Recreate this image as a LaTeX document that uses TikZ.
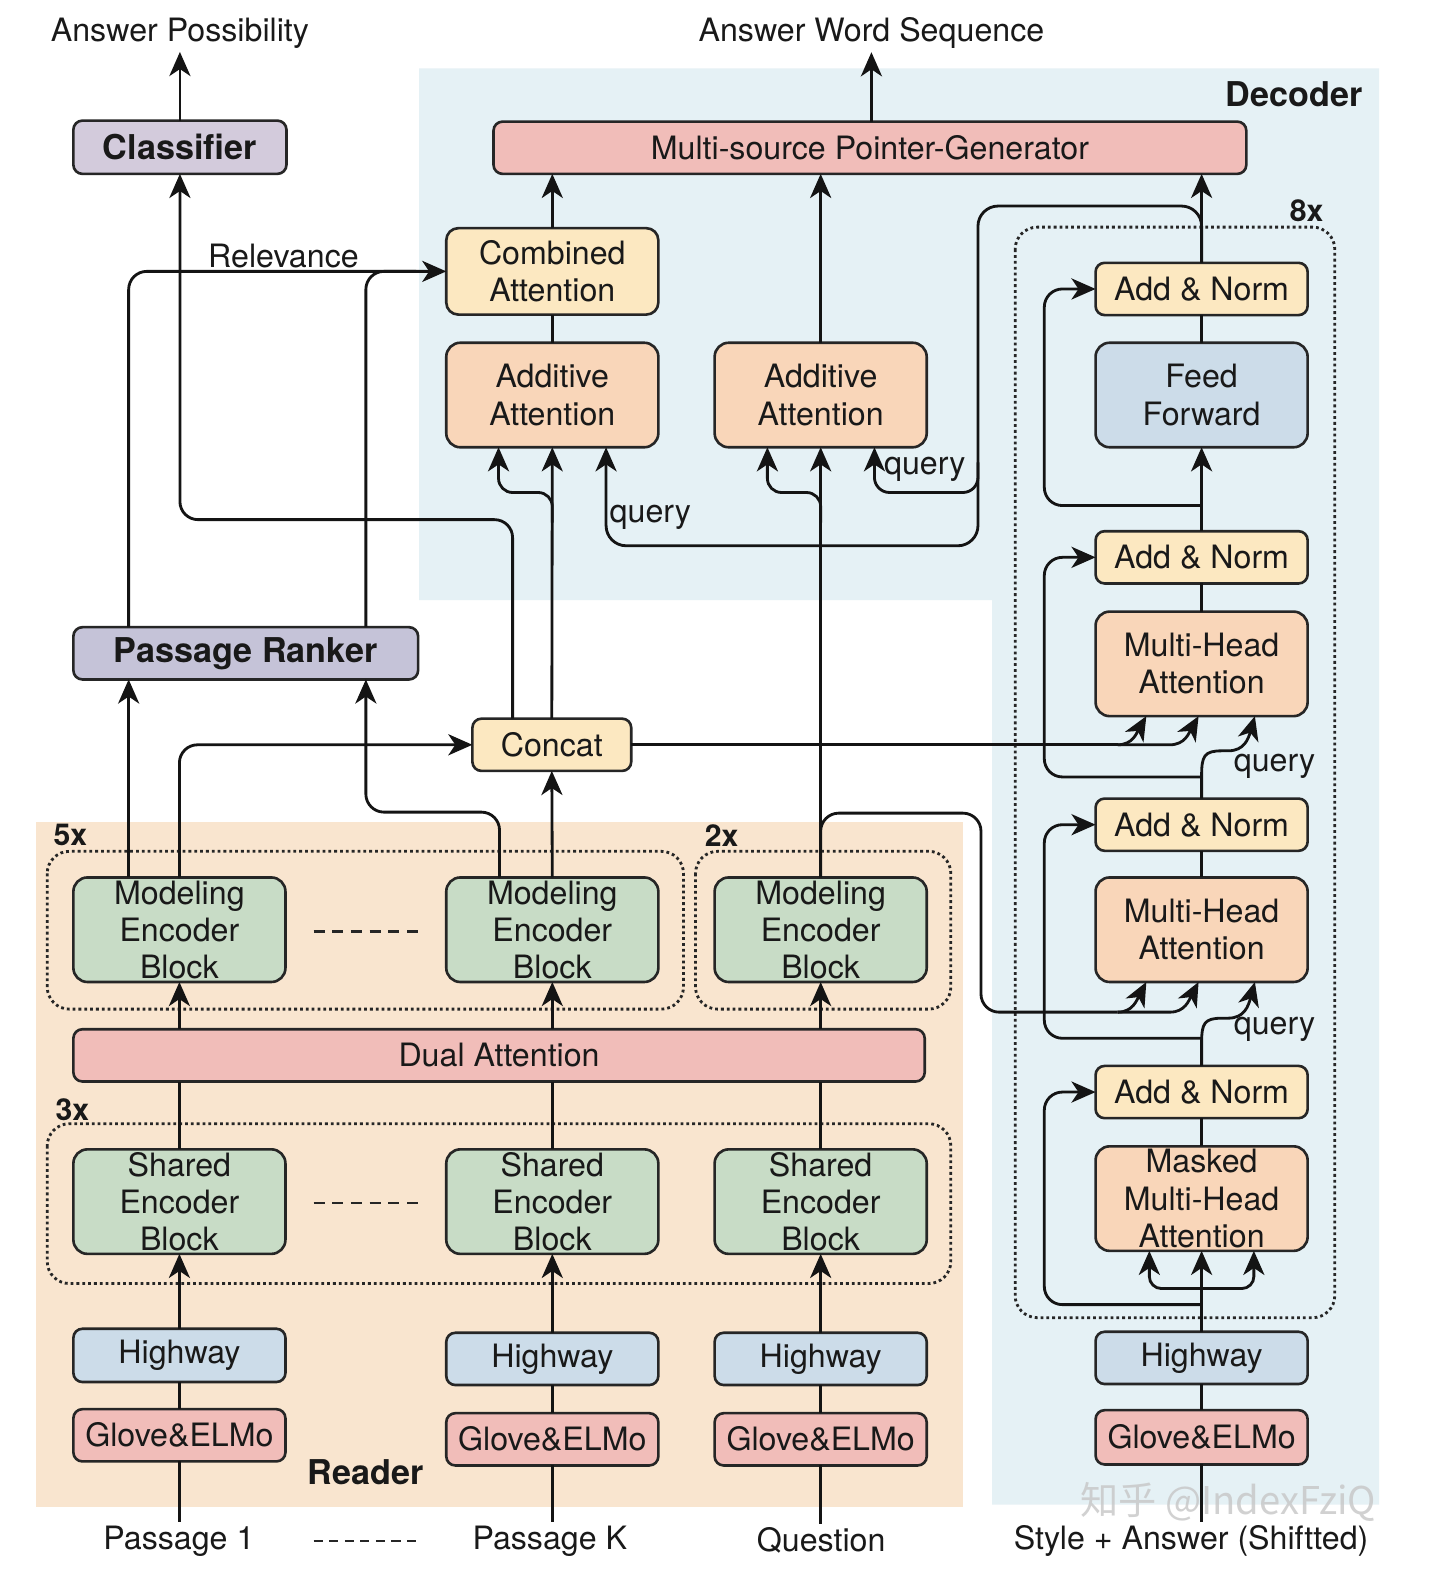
\documentclass[tikz,border=0pt]{standalone}
\usepackage{fontspec}
\setmainfont{TeX Gyre Heros}
\newfontfamily\cjkfont{Noto Sans CJK SC}
\usetikzlibrary{arrows.meta,calc}
\definecolor{decbg}{HTML}{E5F1F5}
\definecolor{readbg}{HTML}{F9E5CF}
\definecolor{clsc}{HTML}{D3CBDC}
\definecolor{prc}{HTML}{C5C3D8}
\definecolor{pinkc}{HTML}{F1BDB9}
\definecolor{yelc}{HTML}{FCE8C1}
\definecolor{orac}{HTML}{F9D6B9}
\definecolor{bluc}{HTML}{CCDCE9}
\definecolor{grnc}{HTML}{C8DCC6}
\begin{document}
\begin{tikzpicture}[x=1pt,y=-1pt,
  every node/.style={font=\fontsize{32}{37}\selectfont, text=black!90},
  box/.style={draw=black!85, line width=2.6pt, rounded corners=9pt, align=center, inner sep=0pt, outer sep=0pt},
  tall/.style={box, rounded corners=14pt, minimum width=211pt, minimum height=104pt},
  short/.style={box, minimum width=211pt, minimum height=52pt},
  conn/.style={line width=2.8pt, draw=black!92},
  arr/.style={conn, -{Stealth[length=24pt,width=21pt,inset=7pt]}},
  rc/.style={rounded corners=18pt},
  dots/.style={line width=2.8pt, draw=black!85, dash pattern=on 2.8pt off 3pt, rounded corners=22pt},
  boldl/.style={font=\fontsize{34}{40}\selectfont\bfseries},
  boldm/.style={font=\fontsize{30}{36}\selectfont\bfseries},
  dashrow/.style={line width=2.6pt, draw=black!85},
]
% background
\fill[white] (0,0) rectangle (1421,1568);
\useasboundingbox (0,0) rectangle (1421,1568);
\fill[decbg] (417,68) -- (1372,68) -- (1372,1497) -- (987,1497) -- (987,597) -- (417,597) -- cycle;
\fill[readbg] (36,818) rectangle (958,1499);

% dotted repetition boxes
\draw[dots] (47,847) rectangle (680,1004);
\draw[dots] (692,847) rectangle (946,1004);
\draw[dots] (47,1118) rectangle (946,1277);
\draw[dots] (1010,226) rectangle (1328,1311);

% labels
\node (ap) at (179,33) {Answer Possibility};
\node (aws) at (867,33) {Answer Word Sequence};
\node[boldl, anchor=east] (dec) at (1359,94) {Decoder};
\node (relv) at (282,255) {Relevance};
\node[boldm] (l8) at (1300,210) {8x};
\node[boldm] (l5) at (70,831) {5x};
\node[boldm] (l2) at (718,831) {2x};
\node[boldm] (l3) at (72,1104) {3x};
\node[boldl] (rdr) at (364,1465) {Reader};
\node (ql1) at (647,515) {query};
\node (ql2) at (920,467) {query};
\node (ql3) at (1268,762) {query};
\node (ql4) at (1268,1024) {query};
\node (p1) at (178,1533) {Passage 1};
\node (pk) at (547,1533) {Passage K};
\node (qn) at (817,1533) {Question};
\node (sa) at (1185,1533) {Style + Answer (Shiftted)};

% top part
\node[box, fill=clsc, minimum width=212pt, minimum height=53pt, boldl] (cls) at (179,146.5) {Classifier};
\node[box, fill=prc, minimum width=343pt, minimum height=52pt, boldl] (pr) at (244.5,650) {Passage Ranker};
\node[box, fill=pinkc, minimum width=749pt, minimum height=52pt] (pg) at (865.5,147) {Multi-source Pointer-Generator};
\node[box, rounded corners=12pt, fill=yelc, minimum width=211pt, minimum height=86pt] (comb) at (549.5,270) {Combined\\Attention};
\node[tall, fill=orac] (add1) at (549.5,393) {Additive\\Attention};
\node[tall, fill=orac] (add2) at (816.5,393) {Additive\\Attention};
\node[box, fill=yelc, minimum width=158pt, minimum height=52pt] (concat) at (549,741) {Concat};

% decoder column
\node[short, fill=yelc] (an1) at (1195.5,287.5) {Add \& Norm};
\node[tall, fill=bluc] (ff) at (1195.5,393) {Feed\\Forward};
\node[short, fill=yelc] (an2) at (1195.5,554.5) {Add \& Norm};
\node[tall, fill=orac] (mha1) at (1195.5,660.5) {Multi-Head\\Attention};
\node[short, fill=yelc] (an3) at (1195.5,820.5) {Add \& Norm};
\node[tall, fill=orac] (mha2) at (1195.5,925) {Multi-Head\\Attention};
\node[short, fill=yelc] (an4) at (1195.5,1086.5) {Add \& Norm};
\node[tall, fill=orac] (mmha) at (1195.5,1192.5) {Masked\\Multi-Head\\Attention};
\node[short, fill=bluc] (hwd) at (1195.5,1351) {Highway};
\node[short, fill=pinkc, minimum height=54pt] (gld) at (1195.5,1430) {Glove\&ELMo};

% reader
\node[tall, fill=grnc] (meb1) at (178.5,925) {Modeling\\Encoder\\Block};
\node[tall, fill=grnc] (meb2) at (549.5,925) {Modeling\\Encoder\\Block};
\node[tall, fill=grnc] (meb3) at (816.5,925) {Modeling\\Encoder\\Block};
\node[box, fill=pinkc, minimum width=847pt, minimum height=52pt] (dual) at (496.5,1050) {Dual Attention};
\node[tall, fill=grnc] (seb1) at (178.5,1195.5) {Shared\\Encoder\\Block};
\node[tall, fill=grnc] (seb2) at (549.5,1195.5) {Shared\\Encoder\\Block};
\node[tall, fill=grnc] (seb3) at (816.5,1195.5) {Shared\\Encoder\\Block};
\node[short, fill=bluc, minimum height=53pt] (hw1) at (178.5,1348.5) {Highway};
\node[short, fill=bluc] (hw2) at (549.5,1352) {Highway};
\node[short, fill=bluc] (hw3) at (816.5,1352) {Highway};
\node[short, fill=pinkc] (gl1) at (178.5,1428) {Glove\&ELMo};
\node[short, fill=pinkc] (gl2) at (549.5,1432) {Glove\&ELMo};
\node[short, fill=pinkc] (gl3) at (816.5,1432) {Glove\&ELMo};

% dashes
\draw[dashrow, dash pattern=on 11pt off 7.6pt] (312,927) -- (416,927);
\draw[dashrow, dash pattern=on 11pt off 7.6pt] (312,1197) -- (416,1197);
\draw[dashrow, dash pattern=on 9pt off 6.5pt] (312,1533) -- (414,1533);

% helper coordinates
\coordinate (rel) at (128,270);
\coordinate (rel2) at (364,270);
\coordinate (cc) at (510,517);
\coordinate (qtop) at (973,205);
\coordinate (qbot) at (973,543);
\coordinate (qmid) at (973,490);
\coordinate (a1q) at ($(add1.south)+(53.5,0)$);
\coordinate (a1l) at ($(add1.south)+(-53.5,0)$);
\coordinate (a2q) at ($(add2.south)+(53.5,0)$);
\coordinate (a2l) at ($(add2.south)+(-53,0)$);
\coordinate (b1) at (549.5,490);
\coordinate (b2) at (816.5,490);
\coordinate (cl) at (178.5,741);
\coordinate (m2) at (497,808);
\coordinate (g1) at (976,809);
\coordinate (g2) at (976,1007);
\coordinate (r1) at (1039,503);
\coordinate (r2) at (1039,773);
\coordinate (r3) at (1039,1033);
\coordinate (r4) at (1039,1298);
\coordinate (m1a) at ($(mha1.south)+(-55,0)$);
\coordinate (m1b) at ($(mha1.south)+(-3,0)$);
\coordinate (m1q) at ($(mha1.south)+(53,0)$);
\coordinate (m2a) at ($(mha2.south)+(-55,0)$);
\coordinate (m2b) at ($(mha2.south)+(-3,0)$);
\coordinate (m2q) at ($(mha2.south)+(53,0)$);
\coordinate (mma) at ($(mmha.south)+(-52,0)$);
\coordinate (mmq) at ($(mmha.south)+(52,0)$);
\coordinate (mb) at (1195.5,1282);
\coordinate (h1) at (1112,741);
\coordinate (h2) at (1112,1007);

% outputs
\draw[arr] (cls.north) -- (ap.south);
\draw[arr] (pg.north -| aws.south) -- (aws.south);
\draw[arr] (comb.north) -- (comb.north |- pg.south);
\draw[arr] (add2.north) -- (add2.north |- pg.south);
\draw[arr] (an1.north) -- (an1.north |- pg.south);
\draw[conn] (add1.north) -- (comb.south);

% decoder column links
\draw[conn] (ff.north) -- (an1.south);
\draw[arr] (an2.north) -- (ff.south);
\draw[conn] (mha1.north) -- (an2.south);
\draw[conn] (mha2.north) -- (an3.south);
\draw[conn] (mmha.north) -- (an4.south);
\draw[arr] (hwd.north) -- (mmha.south);
\draw[conn] (gld.north) -- (hwd.south);
\draw[conn] (gld.south) -- (gld.south |- sa.north);

% residuals
\draw[arr, rc] (an2.north |- r1) -- (r1) -- (r1 |- an1.west) -- (an1.west);
\draw[arr, rc] (an3.north |- r2) -- (r2) -- (r2 |- an2.west) -- (an2.west);
\draw[arr, rc] (an4.north |- r3) -- (r3) -- (r3 |- an3.west) -- (an3.west);
\draw[arr, rc] (hwd.north |- r4) -- (r4) -- (r4 |- an4.west) -- (an4.west);

% queries in decoder
\draw[arr] (an3.north) -- (1195.5,772) .. controls (1195.5,752) and (1198,747) .. (1216,747) -- (1222,747) .. controls (1238,747) and (1242,735) .. (m1q);
\draw[arr] (an4.north) -- (1195.5,1038) .. controls (1195.5,1018) and (1198,1013) .. (1216,1013) -- (1222,1013) .. controls (1238,1013) and (1242,1001) .. (m2q);
\draw[arr, rounded corners=12pt] (mb) -- (mma |- mb) -- (mma);
\draw[arr, rounded corners=12pt] (mb) -- (mmq |- mb) -- (mmq);

% concat to decoder
\draw[conn] (concat.east) -- (h1);
\draw[arr] (h1) .. controls (1127,741) and (1131,729) .. (m1a);
\draw[arr] (h1) -- (1164,741) .. controls (1179,741) and (1183,729) .. (m1b);

% question modeling to decoder
\draw[conn, rc] (meb3.north) -- (meb3.north |- g1) -- (g1) -- (g2) -- (h2);
\draw[arr] (h2) .. controls (1127,1007) and (1131,995) .. (m2a);
\draw[arr] (h2) -- (1164,1007) .. controls (1179,1007) and (1183,995) .. (m2b);

% decoder state as query to additive attentions
\draw[arr, rounded corners=20pt] (an1.north) -- (an1.north |- qtop) -- (qtop) -- (qbot) -- (a1q |- qbot) -- (a1q);
\draw[arr, rounded corners=15pt] ($(qmid)+(0,-30)$) -- (qmid) -- (a2q |- qmid) -- (a2q);

% additive attention inputs
\draw[arr] (concat.north) -- (add1.south);
\draw[arr, rounded corners=14pt] ($(b1)+(0,30)$) -- (b1) -- (a1l |- b1) -- (a1l);
\draw[arr] (meb3.north) -- (add2.south);
\draw[arr, rounded corners=14pt] ($(b2)+(0,30)$) -- (b2) -- (a2l |- b2) -- (a2l);

% concat to classifier
\draw[arr, rc] (concat.north -| cc) -- (cc) -- (cls.south |- cc) -- (cls.south);

% relevance
\draw[arr, rc] (pr.north -| rel) -- (rel) -- (comb.west);
\draw[conn, rc] (pr.north -| rel2) -- (rel2) -- ($(comb.west)+(-30,0)$);

% reader top connections
\draw[arr] (meb1.north -| rel) -- (pr.south -| rel);
\draw[arr, rc] (meb1.north) -- (cl) -- (concat.west);
\draw[arr] (meb2.north) -- (concat.south);
\draw[arr, rc] (meb2.north -| m2) -- (m2) -- (m2 -| rel2) -- (pr.south -| rel2);

% reader columns
\draw[conn] (gl1.south) -- (gl1.south |- p1.north);
\draw[conn] (gl1.north) -- (hw1.south);
\draw[arr] (hw1.north) -- (seb1.south);
\draw[conn] (seb1.north) -- (seb1.north |- dual.south);
\draw[arr] (meb1.south |- dual.north) -- (meb1.south);

\draw[conn] (gl2.south) -- (gl2.south |- pk.north);
\draw[conn] (gl2.north) -- (hw2.south);
\draw[arr] (hw2.north) -- (seb2.south);
\draw[conn] (seb2.north) -- (seb2.north |- dual.south);
\draw[arr] (meb2.south |- dual.north) -- (meb2.south);

\draw[conn] (gl3.south) -- (gl3.south |- qn.north);
\draw[conn] (gl3.north) -- (hw3.south);
\draw[arr] (hw3.north) -- (seb3.south);
\draw[conn] (seb3.north) -- (seb3.north |- dual.south);
\draw[arr] (meb3.south |- dual.north) -- (meb3.south);

% watermark
\node[text=gray!45, opacity=0.8, inner sep=0pt, font=\cjkfont\fontsize{38}{38}\selectfont] (wm) at (1222,1494) {知乎 @IndexFziQ};
\end{tikzpicture}
\end{document}
